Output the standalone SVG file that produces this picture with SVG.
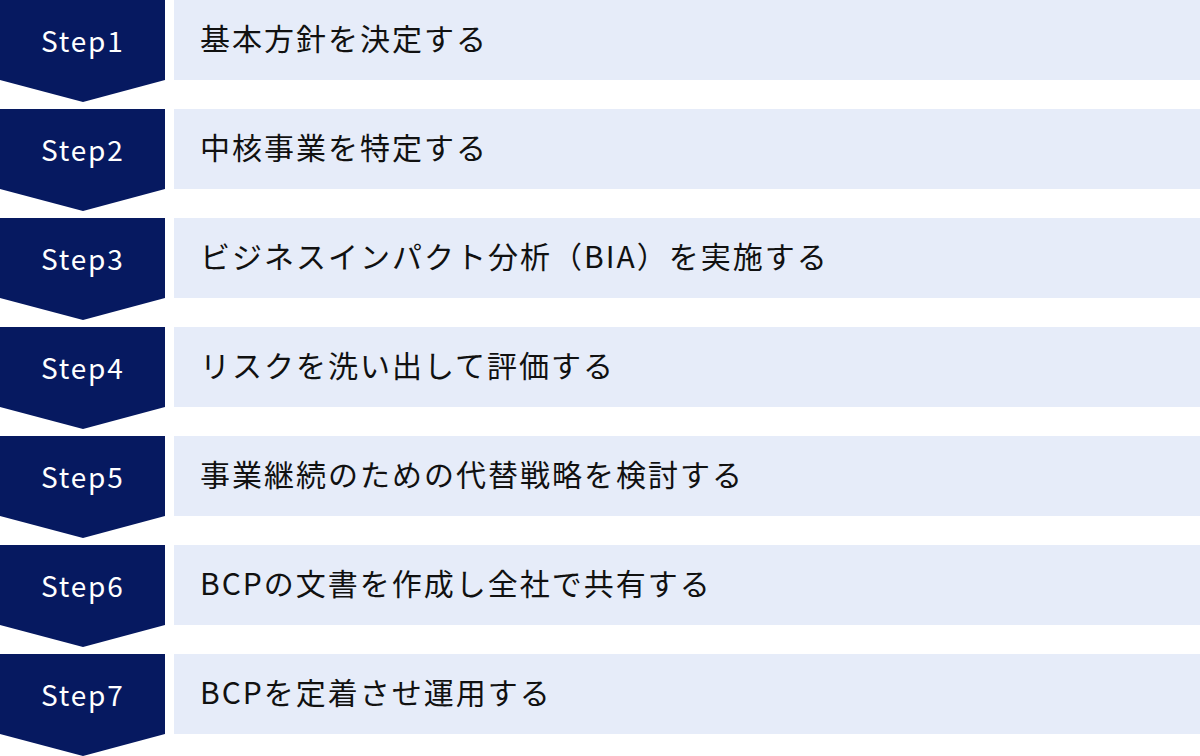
<svg xmlns="http://www.w3.org/2000/svg" width="1200" height="756" viewBox="0 0 1200 756">
<defs>
<style>
.chev{fill:#061960}
.box{fill:#E6ECF9}
.st{font-family:"Noto Sans CJK JP","Noto Sans",sans-serif;font-size:28px;font-weight:400;fill:#ffffff;letter-spacing:1.8px}
.lb{font-family:"Noto Sans CJK JP","Noto Sans",sans-serif;font-size:30px;fill:#111111;letter-spacing:2px}
</style>
<path id="chevShape" class="chev" d="M0,0 H165 V80 L83,102 L0,80 Z"/>
</defs>
<rect width="1200" height="756" fill="#ffffff"/>
<g id="step1" transform="translate(0,0)">
<use href="#chevShape"/><rect class="box" x="174" y="0" width="1026" height="80"/>
<text class="st" x="41" y="51.5">Step1</text><text class="lb" x="200" y="50">基本方針を決定する</text>
</g>
<g id="step2" transform="translate(0,109)">
<use href="#chevShape"/><rect class="box" x="174" y="0" width="1026" height="80"/>
<text class="st" x="41" y="51.5">Step2</text><text class="lb" x="200" y="50">中核事業を特定する</text>
</g>
<g id="step3" transform="translate(0,218)">
<use href="#chevShape"/><rect class="box" x="174" y="0" width="1026" height="80"/>
<text class="st" x="41" y="51.5">Step3</text><text class="lb" x="200" y="50">ビジネスインパクト分析（BIA）を実施する</text>
</g>
<g id="step4" transform="translate(0,327)">
<use href="#chevShape"/><rect class="box" x="174" y="0" width="1026" height="80"/>
<text class="st" x="41" y="51.5">Step4</text><text class="lb" x="200" y="50">リスクを洗い出して評価する</text>
</g>
<g id="step5" transform="translate(0,436)">
<use href="#chevShape"/><rect class="box" x="174" y="0" width="1026" height="80"/>
<text class="st" x="41" y="51.5">Step5</text><text class="lb" x="200" y="50">事業継続のための代替戦略を検討する</text>
</g>
<g id="step6" transform="translate(0,545)">
<use href="#chevShape"/><rect class="box" x="174" y="0" width="1026" height="80"/>
<text class="st" x="41" y="51.5">Step6</text><text class="lb" x="200" y="50">BCPの文書を作成し全社で共有する</text>
</g>
<g id="step7" transform="translate(0,654)">
<use href="#chevShape"/><rect class="box" x="174" y="0" width="1026" height="80"/>
<text class="st" x="41" y="51.5">Step7</text><text class="lb" x="200" y="50">BCPを定着させ運用する</text>
</g>
<g id="connectors"></g>
</svg>
